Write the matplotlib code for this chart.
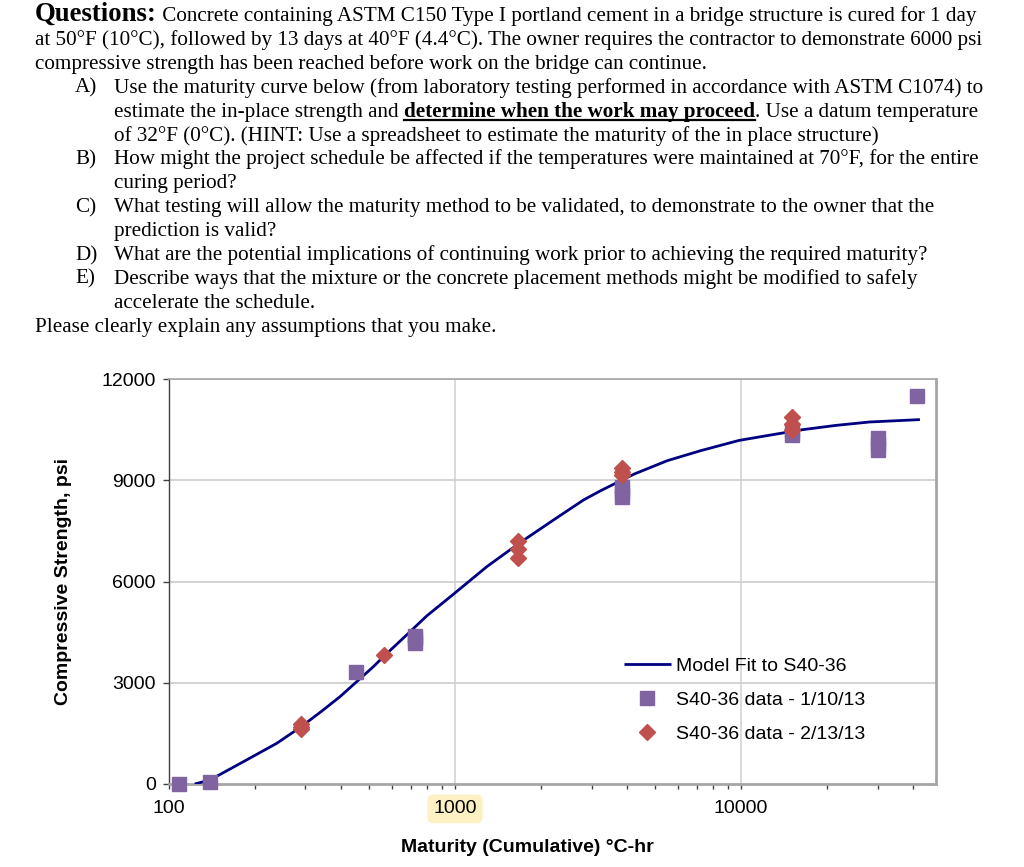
import numpy as np
import matplotlib
matplotlib.use('Agg')
import matplotlib.pyplot as plt
from matplotlib.lines import Line2D
from matplotlib.ticker import FixedLocator, LogLocator, NullFormatter

# ---- data ----
fit_maturity = [123, 139, 182, 238, 290, 346, 396, 453, 518, 570, 678, 796,
                986, 1291, 1686, 2208, 2812, 3214, 4218, 5520, 7244, 9842,
                12470, 16350, 21420, 28100, 42170]
fit_strength = [0, 118, 661, 1205, 1699, 2193, 2587, 3031, 3476, 3822, 4420, 4980,
                5620, 6439, 7150, 7822, 8415, 8682, 9180, 9580, 9880, 10181,
                10330, 10497, 10625, 10726, 10797]

sq_maturity = [108, 139, 451, 726, 726, 726, 3830, 3830, 3830,
               15100, 15100, 30000, 30000, 30000, 41300]
sq_strength = [0, 70, 3330, 4190, 4290, 4390, 8500, 8650, 8800,
               10350, 10450, 9900, 10080, 10260, 11500]

dm_maturity = [289, 289, 289, 566, 1664, 1664, 1664, 3845, 3845, 3845,
               15100, 15100, 15100]
dm_strength = [1620, 1700, 1780, 3820, 6710, 6960, 7210, 9150, 9250, 9350,
               10500, 10680, 10870]

y_ticks = [0, 3000, 6000, 9000, 12000]
x_ticks = [100, 1000, 10000]
legend_labels = ['Model Fit to S40-36', 'S40-36 data - 1/10/13', 'S40-36 data - 2/13/13']

W, H = 1024, 867
fig = plt.figure(figsize=(W / 100, H / 100), dpi=100)
fig.patch.set_facecolor('white')


def fx(px):
    return px / W


def fy(py):
    return 1 - py / H


SERIF = 'Liberation Serif'
SZ = 15.2
renderer = fig.canvas.get_renderer()


def text_width(s, size, weight):
    # measure with guard chars so leading/trailing spaces are counted
    a = fig.text(0, 0, 'x' + s + 'x', fontsize=size, fontweight=weight, family=SERIF)
    b = fig.text(0, 0, 'xx', fontsize=size, fontweight=weight, family=SERIF)
    w = a.get_window_extent(renderer).width - b.get_window_extent(renderer).width
    a.remove()
    b.remove()
    return w


def write_line(x, y, parts):
    for s, size, bold, under in parts:
        weight = 'bold' if bold else 'normal'
        fig.text(fx(x), fy(y), s, fontsize=size, fontweight=weight,
                 family=SERIF, va='baseline', ha='left')
        w = text_width(s, size, weight)
        if under:
            fig.add_artist(Line2D([fx(x), fx(x + w)], [fy(y + 3), fy(y + 3)],
                                  color='black', lw=1.6, transform=fig.transFigure))
        x += w


def plain(s):
    return [(s, SZ, False, False)]


base = 21
step = 23.9
lines = [
    (35, [('Questions:', 19.3, True, False),
          (' Concrete containing ASTM C150 Type I portland cement in a bridge structure is cured for 1 day', SZ, False, False)]),
    (35, plain('at 50°F (10°C), followed by 13 days at 40°F (4.4°C). The owner requires the contractor to demonstrate 6000 psi')),
    (35, plain('compressive strength has been reached before work on the bridge can continue.')),
    (114, plain('Use the maturity curve below (from laboratory testing performed in accordance with ASTM C1074) to')),
    (114, [('estimate the in-place strength and ', SZ, False, False),
           ('determine when the work may proceed', SZ, True, True),
           ('. Use a datum temperature', SZ, False, False)]),
    (114, plain('of 32°F (0°C). (HINT: Use a spreadsheet to estimate the maturity of the in place structure)')),
    (114, plain('How might the project schedule be affected if the temperatures were maintained at 70°F, for the entire')),
    (114, plain('curing period?')),
    (114, plain('What testing will allow the maturity method to be validated, to demonstrate to the owner that the')),
    (114, plain('prediction is valid?')),
    (114, plain('What are the potential implications of continuing work prior to achieving the required maturity?')),
    (114, plain('Describe ways that the mixture or the concrete placement methods might be modified to safely')),
    (114, plain('accelerate the schedule.')),
    (35, plain('Please clearly explain any assumptions that you make.')),
]
letters = {3: 'A)', 6: 'B)', 8: 'C)', 10: 'D)', 11: 'E)'}
for i, (x0, parts) in enumerate(lines):
    yb = base + i * step
    if i in letters:
        fig.text(fx(75), fy(yb), letters[i], fontsize=SZ, family=SERIF, va='baseline')
    write_line(x0, yb, parts)

# ---- chart ----
ax = fig.add_axes([fx(169), fy(784), fx(936) - fx(169), fy(379) - fy(784)])
ax.set_xscale('log')
ax.set_xlim(100, 48000)
ax.set_ylim(0, 12000)

grid_c = '#C8C8C8'
for v in y_ticks[1:]:
    ax.axhline(v, color=grid_c, lw=1.1, zorder=0)
for v in x_ticks[1:]:
    ax.axvline(v, color='#D0D0D0', lw=1.1, zorder=0)

ax.plot(fit_maturity, fit_strength, color='#000080', lw=2, zorder=3,
        solid_capstyle='butt', solid_joinstyle='round', label=legend_labels[0])
ax.plot(sq_maturity, sq_strength, ls='none', marker='s', ms=10,
        mfc='#8064A2', mec='#8064A2', zorder=4, clip_on=False, label=legend_labels[1])
ax.plot(dm_maturity, dm_strength, ls='none', marker='D', ms=8.5,
        mfc='#C0504D', mec='#C0504D', zorder=5, clip_on=False, label=legend_labels[2])

ax.xaxis.set_major_locator(FixedLocator(x_ticks))
ax.xaxis.set_minor_locator(LogLocator(base=10, subs=np.arange(2, 10)))
ax.xaxis.set_minor_formatter(NullFormatter())
ax.set_xticklabels([str(v) for v in x_ticks])
ax.set_yticks(y_ticks)
ax.set_yticklabels([str(v) for v in y_ticks])

SANS = 'Liberation Sans'
for lab in ax.get_xticklabels() + ax.get_yticklabels():
    lab.set_family(SANS)
    lab.set_fontsize(14)
ax.get_xticklabels()[1].set_bbox(dict(boxstyle='round,pad=0.3', fc='#FDF0C2', ec='none'))

ax.tick_params(axis='x', which='both', direction='out', length=3.8, width=1,
               color='#404040', pad=8)
ax.tick_params(axis='y', direction='out', length=4.5, width=1, color='#404040', pad=5)

for side in ['top', 'right', 'bottom']:
    ax.spines[side].set_color('#A6A6A6')
ax.spines['bottom'].set_linewidth(2)
ax.spines['top'].set_linewidth(1.2)
ax.spines['right'].set_linewidth(2)
ax.spines['left'].set_color('#404040')
ax.spines['left'].set_linewidth(1)

ax.set_xlabel('Maturity (Cumulative) °C-hr', fontsize=14, fontweight='bold', family=SANS)
ax.set_ylabel('Compressive Strength, psi', fontsize=14, fontweight='bold', family=SANS)
ax.xaxis.set_label_coords((527 - 169) / (936 - 169), -(848 - 784) / (784 - 379),
                          transform=ax.transAxes)
ax.xaxis.label.set_va('center')
ax.yaxis.set_label_coords(-(169 - 64) / (936 - 169), 0.5, transform=ax.transAxes)
ax.yaxis.label.set_va('center')

leg = ax.legend(loc='upper left', bbox_to_anchor=(fx(624), fy(657)),
                bbox_transform=fig.transFigure, frameon=False,
                prop={'family': SANS, 'size': 14}, handlelength=2.4,
                handletextpad=0.25, labelspacing=0.85, borderpad=0,
                borderaxespad=0)

fig.savefig('out.png', dpi=100, facecolor='white')
